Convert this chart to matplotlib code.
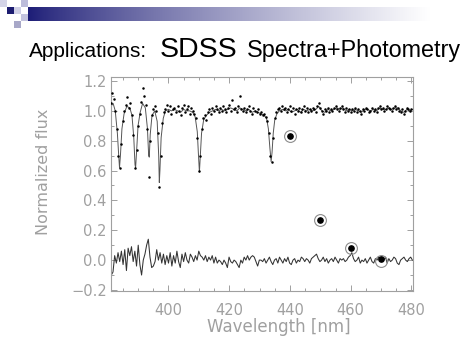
import numpy as np
import matplotlib
matplotlib.use("Agg")
import matplotlib.pyplot as plt
from matplotlib.patches import Rectangle
from matplotlib.ticker import MultipleLocator, FuncFormatter

W, H = 474, 355

# ---------- data ----------
# observed SDSS spectrum, one value every 0.5 nm starting at 381 nm
flux_obs = [
    1.05, 1.12, 1.08, 1.00, 0.88, 0.70, 0.62, 0.78, 0.93, 1.00,
    1.04, 1.09, 1.02, 1.05, 0.97, 0.84, 0.62, 0.74, 0.90, 0.98,
    1.06, 1.15, 1.10, 1.04, 0.88, 0.56, 0.80, 0.97, 1.01, 1.03,
    1.00, 0.85, 0.49, 0.70, 0.92, 0.99, 1.01, 1.04, 1.00, 1.03,
    0.98, 1.01, 1.02, 0.99, 1.03, 1.00, 0.97, 1.02, 1.04, 0.99,
    1.01, 1.03, 0.98, 1.02, 1.00, 0.98, 0.95, 0.82, 0.60, 0.70,
    0.88, 0.95, 0.97, 0.94, 0.99, 1.01, 0.98, 1.02, 1.00, 1.03,
    1.01, 0.99, 1.02, 1.00, 1.03, 1.01, 0.99, 1.02, 1.04, 1.00,
    1.07, 1.01, 1.02, 0.99, 1.03, 1.10, 1.01, 1.00, 1.02, 0.99,
    1.01, 1.03, 1.00, 0.98, 1.02, 1.00, 0.99, 1.01, 0.98, 0.99,
    0.97, 0.98, 0.96, 0.93, 0.85, 0.70, 0.66, 0.82, 0.95, 0.99,
    1.01, 1.02, 1.00, 1.03, 1.01, 1.02, 0.99, 1.01, 1.03, 1.00,
    1.02, 0.98, 1.01, 1.00, 1.02, 0.99, 1.01, 1.03, 1.00, 1.02,
    0.99, 1.01, 1.00, 1.02, 1.01, 0.99, 1.03, 1.05, 1.02, 1.00,
    0.98, 1.01, 1.00, 1.02, 0.99, 1.01, 1.00, 1.02, 1.03, 1.01,
    1.00, 1.02, 1.03, 1.01, 0.99, 1.02, 1.00, 1.01, 0.99, 1.01,
    1.00, 1.02, 0.99, 1.01, 1.00, 0.98, 1.01, 1.00, 1.02, 1.01,
    0.99, 1.00, 1.02, 1.00, 1.01, 0.99, 1.02, 1.03, 1.01, 1.02,
    1.00, 1.01, 1.03, 1.02, 1.01, 1.00, 1.02, 1.03, 1.01, 1.02,
    1.00, 0.99, 1.01, 0.98, 1.00, 1.02, 1.01, 1.00, 1.01,
]

# model fit (wavelength nm, normalized flux)
model_pts = [
    (381.1, 1.03), (381.8, 1.05), (382.5, 1.00), (383.2, 0.85), (383.7, 0.68),
    (383.9, 0.62), (384.2, 0.70), (384.7, 0.88), (385.4, 0.98), (386.3, 1.03),
    (387.3, 1.02), (388.0, 0.97), (388.6, 0.82), (389.0, 0.64), (389.2, 0.62),
    (389.5, 0.72), (390.0, 0.90), (390.7, 0.99), (391.5, 1.05), (392.4, 1.02),
    (393.1, 0.88), (393.5, 0.70), (393.7, 0.69), (394.0, 0.84), (394.6, 0.97),
    (395.5, 1.00), (396.3, 0.93), (396.8, 0.70), (397.0, 0.52), (397.2, 0.60),
    (397.6, 0.82), (398.3, 0.95), (399.0, 1.00), (400.0, 1.01), (401.0, 1.00),
    (402.0, 1.01), (403.0, 1.00), (404.0, 0.99), (405.0, 1.01), (406.0, 1.00),
    (407.0, 1.00), (408.0, 0.99), (408.8, 0.96), (409.5, 0.86), (409.9, 0.70),
    (410.2, 0.59), (410.5, 0.70), (410.9, 0.85), (411.6, 0.94), (412.5, 0.97),
    (413.5, 0.99), (414.5, 1.00), (415.5, 1.01), (416.5, 1.00), (417.5, 1.01),
    (418.5, 1.00), (419.5, 1.01), (420.5, 1.02), (421.5, 1.01), (422.5, 1.00),
    (423.5, 1.02), (424.5, 1.01), (425.5, 1.00), (426.5, 1.01), (427.5, 0.99),
    (428.5, 1.00), (429.5, 0.99), (430.5, 0.98), (431.5, 0.97), (432.3, 0.95),
    (432.9, 0.88), (433.4, 0.75), (433.8, 0.66), (434.1, 0.72), (434.5, 0.85),
    (435.0, 0.94), (435.7, 0.98), (436.5, 1.00), (437.5, 1.01), (438.5, 1.00),
    (439.5, 1.01), (440.5, 0.99), (441.5, 1.00), (442.5, 1.01), (443.5, 0.99),
    (444.5, 1.01), (445.5, 1.00), (446.5, 1.01), (447.5, 1.00), (448.5, 1.01),
    (449.5, 1.03), (450.5, 1.00), (451.5, 0.99), (452.5, 1.01), (453.5, 1.00),
    (454.5, 1.01), (455.5, 1.02), (456.5, 1.01), (457.5, 1.02), (458.5, 1.00),
    (459.5, 1.01), (460.5, 1.00), (461.5, 1.01), (462.5, 1.00), (463.5, 0.99),
    (464.5, 1.01), (465.5, 1.01), (466.5, 1.00), (467.5, 1.01), (468.5, 1.00),
    (469.5, 1.02), (470.5, 1.01), (471.5, 1.01), (472.5, 1.02), (473.5, 1.01),
    (474.5, 1.02), (475.5, 1.02), (476.5, 1.00), (477.5, 0.99), (478.5, 1.01),
    (479.5, 1.00), (480.4, 1.01),
]

# residual (data - model), evenly spread from 381.2 to 480.3 nm
resid = [
    -0.10, -0.08, 0.03, -0.02, 0.05, -0.01, 0.06, -0.03, 0.07, -0.07,
    0.08, 0.03, 0.09, -0.01, 0.06, -0.04, 0.10, -0.03, -0.10, 0.00,
    0.04, 0.10, 0.14, 0.02, -0.05, -0.04, -0.01, 0.07, 0.00, 0.05,
    -0.02, 0.04, -0.03, 0.03, -0.02, 0.05, -0.04, 0.03, -0.02, 0.06,
    -0.01, -0.05, 0.04, -0.01, 0.05, 0.00, -0.02, 0.04, 0.02, -0.01,
    0.03, 0.00, 0.06, 0.03, 0.02, 0.00, 0.03, -0.01, 0.02, 0.00,
    0.03, -0.02, 0.02, -0.02, 0.00, -0.01, -0.03, 0.00, -0.02, -0.05,
    0.02, -0.01, -0.02, 0.00, -0.01, -0.03, -0.05, 0.00, -0.02, 0.02,
    0.00, 0.03, 0.00, 0.02, 0.03, 0.02, -0.01, -0.04, 0.00, 0.00,
    -0.01, 0.01, -0.02, 0.00, 0.02, -0.01, -0.03, 0.00, 0.01, -0.02,
    0.02, 0.00, -0.02, 0.01, -0.01, 0.02, -0.02, -0.03, 0.00, 0.01,
    -0.02, 0.00, -0.01, 0.02, 0.01, -0.01, 0.01, 0.00, -0.02, 0.01,
    0.02, 0.03, 0.04, 0.01, -0.01, 0.00, 0.02, -0.01, 0.01, -0.02,
    0.00, 0.01, -0.01, 0.02, 0.00, -0.02, 0.01, 0.00, 0.01, -0.01,
    0.00, 0.02, 0.03, 0.05, 0.01, -0.01, 0.00, 0.02, -0.02, 0.00,
    -0.01, 0.01, -0.02, 0.00, 0.02, -0.01, -0.02, 0.01, 0.00, 0.02,
    0.01, -0.01, 0.00, 0.02, -0.02, 0.01, -0.01, 0.00, 0.02, 0.01,
    -0.02, -0.03, 0.00, 0.01, 0.02, 0.00, -0.01, 0.01, 0.02, 0.00,
]

# photometry: measured (dots) and model (open circles)
phot_wl = [440, 450, 460, 470]
phot_obs = [0.83, 0.27, 0.08, 0.01]
phot_model = [0.83, 0.27, 0.08, -0.003]

wl_obs = 381.0 + 0.5 * np.arange(len(flux_obs))
model_wl = [p[0] for p in model_pts]
model_flux = [p[1] for p in model_pts]
wl_resid = np.linspace(381.2, 480.3, len(resid))

GRAY = "#a0a0a0"


def fx(px):
    return px / W


def fy(py):
    return 1 - py / H


fig = plt.figure(figsize=(W / 100, H / 100), dpi=100)
fig.patch.set_facecolor("white")

# ---------- slide header: squares + fading bar ----------
squares = [
    (0, 0, "#d4d4e8"), (7, 7, "#1c1c70"), (14, 7, "#d0d0e6"),
    (21, 0, "#bcbcda"), (21, 14, "#c4c4de"), (14, 21, "#a8a8c8"),
]
for sx, sy, c in squares:
    fig.add_artist(Rectangle((fx(sx), fy(sy + 7)), 7 / W, 7 / H,
                             transform=fig.transFigure, color=c, lw=0))

bar_ax = fig.add_axes([fx(28), fy(21), fx(W - 28), 14 / H])
n = 400
t = np.clip(np.linspace(0, 1, n) / 0.9, 0, 1) ** 0.8
c0 = np.array([28, 28, 118]) / 255.0
c1 = np.array([1.0, 1.0, 1.0])
grad = (c0[None, :] * (1 - t[:, None]) + c1[None, :] * t[:, None])[None, :, :]
bar_ax.imshow(grad, aspect="auto", extent=(0, 1, 0, 1))
bar_ax.axis("off")

# ---------- slide title ----------
base = fy(57)
fig.text(fx(29), base, "Applications:", fontsize=15, family="Liberation Sans",
         va="baseline", ha="left")
fig.text(fx(160), base, "SDSS", fontsize=20.5, family="Liberation Sans",
         va="baseline", ha="left")
fig.text(fx(247), base, "Spectra+Photometry", fontsize=16.8,
         family="Liberation Sans", va="baseline", ha="left")

# ---------- spectrum plot ----------
ax = fig.add_axes([fx(111), fy(290.7), fx(412.7 - 111), (290.7 - 77) / H])

ax.plot(model_wl, model_flux, color="#555555", lw=0.7, zorder=2)
ax.plot(wl_obs, flux_obs, ls="none", marker="o", ms=1.8, mfc="black",
        mec="black", mew=0, zorder=3)
ax.plot(wl_resid, resid, color="#333333", lw=0.75, zorder=2)

ax.plot(phot_wl, phot_model, ls="none", marker="o", ms=8.5, mfc="none",
        mec="#8c8c8c", mew=0.8, zorder=4)
ax.plot(phot_wl, phot_obs, ls="none", marker="o", ms=3.8, mfc="black",
        mec="black", zorder=5)

ax.set_xlim(381.1, 480.4)
ax.set_ylim(-0.205, 1.227)
ax.xaxis.set_major_locator(MultipleLocator(20))
ax.xaxis.set_minor_locator(MultipleLocator(5))
ax.yaxis.set_major_locator(MultipleLocator(0.2))
ax.yaxis.set_minor_locator(MultipleLocator(0.1))
ax.yaxis.set_major_formatter(
    FuncFormatter(lambda v, _: f"{v:.1f}".replace("-", "\u2212")))
ax.set_xticks([400, 420, 440, 460, 480])

ax.tick_params(which="both", direction="in", top=True, right=True,
               color=GRAY, labelcolor=GRAY, width=0.7)
ax.tick_params(which="major", length=4.5, labelsize=10.5)
ax.tick_params(axis="x", which="major", pad=9)
ax.tick_params(axis="y", which="major", pad=3)
ax.tick_params(which="minor", length=2.2)
for sp in ax.spines.values():
    sp.set_color(GRAY)
    sp.set_linewidth(0.8)

fig.text(fx(279), fy(327), "Wavelength [nm]", color=GRAY, fontsize=12,
         ha="center", va="center")
fig.text(fx(43), fy(172), "Normalized flux", color=GRAY, fontsize=11.5,
         ha="center", va="center", rotation=90)

fig.savefig("out.png", dpi=100)
